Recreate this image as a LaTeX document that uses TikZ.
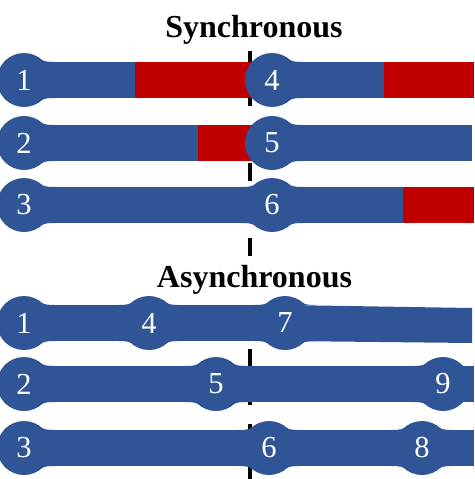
\documentclass[tikz,border=0pt]{standalone}
\usepackage{fontspec}
\setmainfont{Liberation Serif}
\definecolor{pinblue}{HTML}{2F5597}
\definecolor{pinred}{HTML}{C00000}
\tikzset{
  pin/.style={circle, fill=pinblue, minimum size=54pt, inner sep=0pt, text=white,
    font=\fontsize{30.5}{32}\selectfont},
  title/.style={font=\fontsize{32}{36}\selectfont\bfseries, inner sep=0pt, anchor=base},
  dashline/.style={line width=4pt, dash pattern=on 18pt off 19.3pt},
}
\newcommand{\filletpair}[3]{%
  \fill[pinblue] ({#1+#3*14},{#2-22.8}) .. controls ({#1+#3*20},{#2-18.3}) .. ({#1+#3*31},{#2-18}) -- ({#1+#3*14},{#2-18}) -- cycle;
  \fill[pinblue] ({#1+#3*14},{#2+22.8}) .. controls ({#1+#3*20},{#2+18.3}) .. ({#1+#3*31},{#2+18}) -- ({#1+#3*14},{#2+18}) -- cycle;
}
\begin{document}
\begin{tikzpicture}[x=1pt,y=-1pt]
\useasboundingbox (0,0) rectangle (474,479);
% dashed separator
\coordinate (dtop) at (250,51);
\coordinate (dbot) at (250,479);
\draw[dashline] (dtop) -- (dbot);

% ---------- Synchronous ----------
\node[title] (tsync) at (254,37) {Synchronous};
% row 1
\fill[pinblue] (24,62) rectangle (135,98);
\fill[pinred] (135,62) rectangle (252,98);
\fill[pinblue] (272,62) rectangle (384,98);
\fill[pinred] (384,62) rectangle (474,98);
% row 2
\fill[pinblue] (24,125) rectangle (198,161);
\fill[pinred] (198,125) rectangle (252,161);
\fill[pinblue] (272,125) rectangle (472,161);
% row 3
\fill[pinblue] (24,187) rectangle (403,223);
\fill[pinred] (403,187) rectangle (474,223);

\filletpair{24}{80}{1}
\filletpair{272}{80}{1}
\filletpair{24}{143}{1}
\filletpair{272}{143}{1}
\filletpair{24}{205}{1}
\filletpair{272}{205}{1}
\filletpair{272}{205}{-1}

\node[pin] (s1) at (24,80) {1};
\node[pin] (s4) at (272,80) {4};
\node[pin] (s2) at (24,143) {2};
\node[pin] (s5) at (272,143) {5};
\node[pin] (s3) at (24,205) {3};
\node[pin] (s6) at (272,205) {6};

% ---------- Asynchronous ----------
\node[title, fill=white, inner ysep=1pt] (tasync) at (254.5,287) {Asynchronous};
% row 1
\fill[pinblue] (24,305) rectangle (286,341);
\fill[pinblue] (285,305) -- (472,308) -- (472,343) -- (285,341) -- cycle;
% row 2
\fill[pinblue] (24,366) rectangle (474,402);
% row 3
\fill[pinblue] (24,430) rectangle (474,466);

\filletpair{24}{323}{1}
\filletpair{149}{323}{1}
\filletpair{149}{323}{-1}
\filletpair{285}{323}{1}
\filletpair{285}{323}{-1}
\filletpair{24}{384}{1}
\filletpair{216}{384}{1}
\filletpair{216}{384}{-1}
\filletpair{443}{384}{-1}
\filletpair{24}{448}{1}
\filletpair{269}{448}{1}
\filletpair{269}{448}{-1}
\filletpair{422}{448}{1}
\filletpair{422}{448}{-1}

\node[pin] (a1) at (24,323) {1};
\node[pin] (a4) at (149,323) {4};
\node[pin] (a7) at (285,323) {7};
\node[pin] (a2) at (24,384) {2};
\node[pin] (a5) at (216,384) {5};
\node[pin] (a9) at (443,384) {9};
\node[pin] (a3) at (24,448) {3};
\node[pin] (a6) at (269,448) {6};
\node[pin] (a8) at (422,448) {8};
\end{tikzpicture}
\end{document}
